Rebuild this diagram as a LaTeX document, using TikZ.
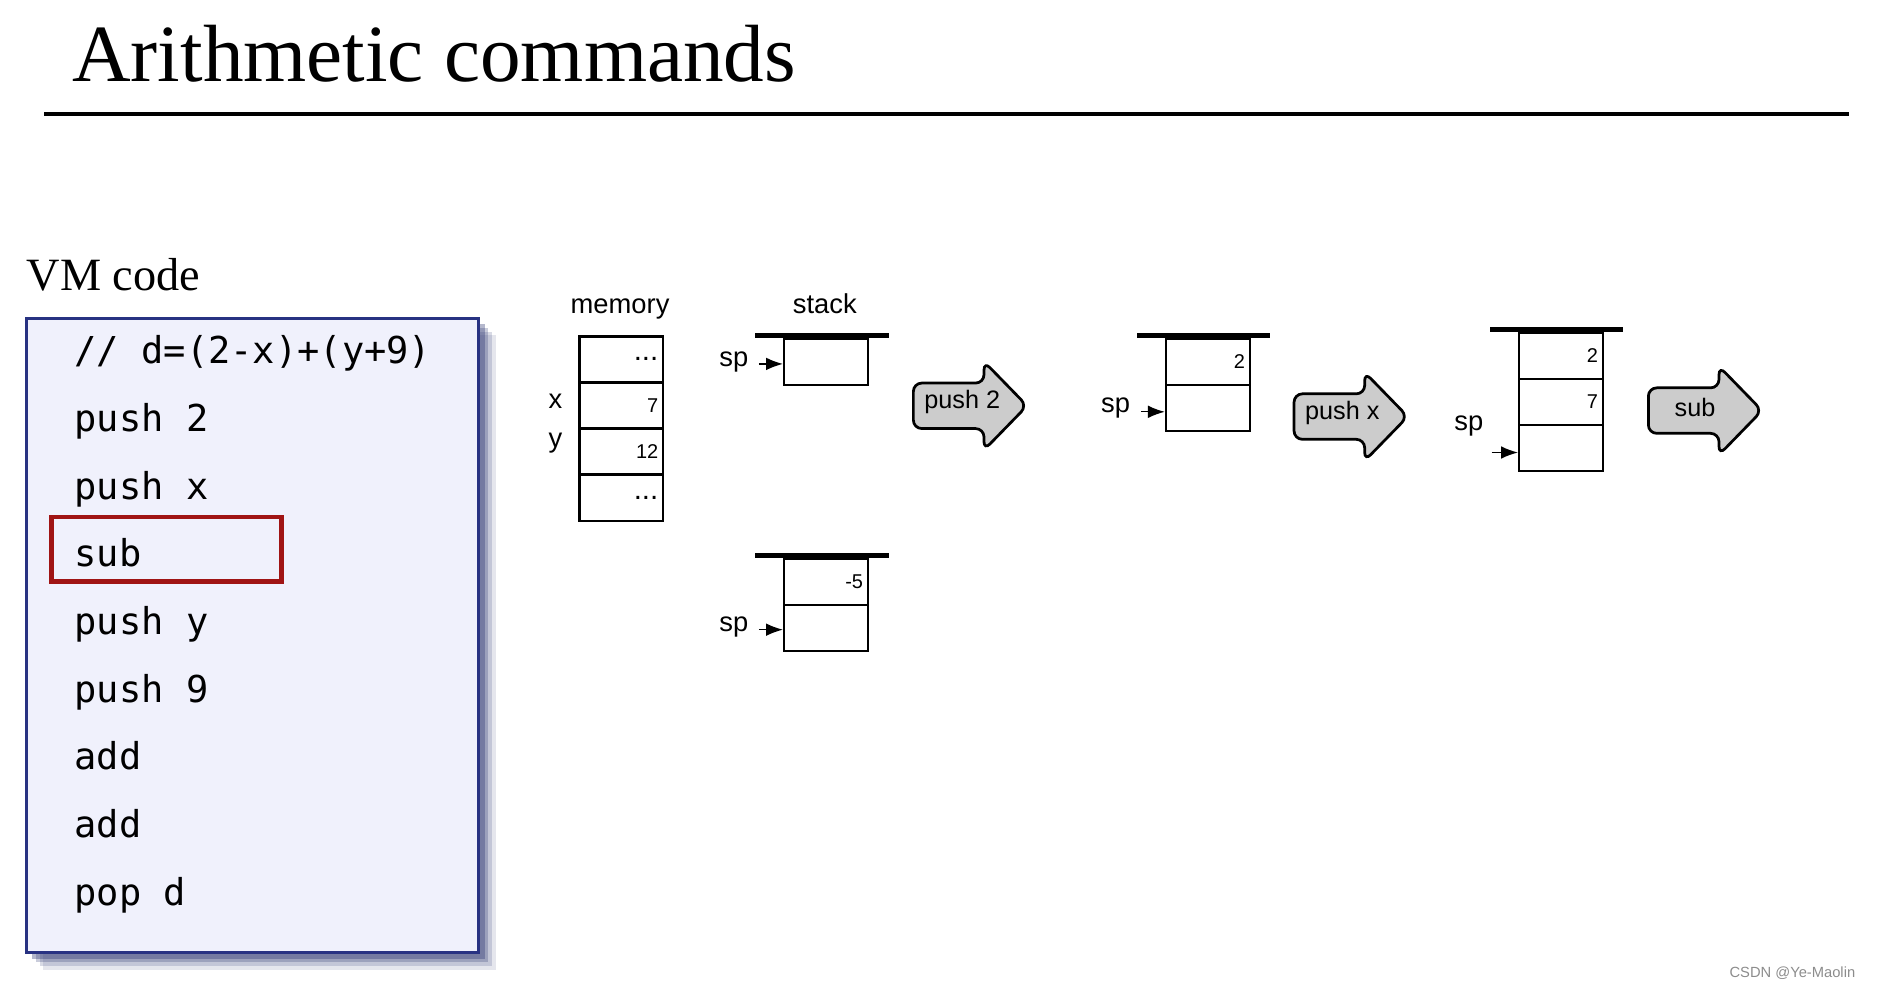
\documentclass[tikz,border=0pt]{standalone}
\usepackage{fontspec}
\setmainfont{Liberation Serif}
\setsansfont{Liberation Sans}
\setmonofont{DejaVu Sans Mono}
\usetikzlibrary{arrows.meta}
\definecolor{shad}{RGB}{40,50,110}
\definecolor{boxb}{RGB}{40,50,130}
\definecolor{boxf}{RGB}{240,241,252}
\definecolor{redb}{RGB}{160,20,20}
\newcommand\sz[1]{\fontsize{#1}{#1}\selectfont}
\tikzset{
  cell/.style={draw,line width=1.1pt,minimum width=70*0.02cm,minimum height=38.5*0.02cm,inner sep=2pt,anchor=north west,font=\sffamily\sz{9.5pt},align=right,text width=62*0.02cm},
  lbl/.style={font=\sffamily\sz{13pt}},
  bar/.style={line width=2.4pt},
  spar/.style={-{Latex[length=8pt,width=6pt]},line width=0.6pt},
  code/.style={font=\ttfamily\sz{17.6pt},anchor=base west},
  barr/.style={draw,line width=1.3pt,fill=black!20,rounded corners=4pt},
}
\newcommand\blockarr[4]{%
  \draw[barr] (#2,#3-19) -- (#2+59,#3-19) -- (#2+59,#3-37) -- (#2+95,#3) -- (#2+59,#3+37) -- (#2+59,#3+19) -- (#2,#3+19) -- cycle;
  \node[font=\sffamily\sz{12pt},anchor=west] (#1) at (#2+3,#3-3) {#4};}
\begin{document}
\begin{tikzpicture}[x=0.02cm,y=-0.02cm]
\useasboundingbox (0,0) rectangle (1568,826);
\node[font=\sz{38.6pt},anchor=base west,inner sep=0] (title) at (60,68) {Arithmetic commands};
\draw[line width=1.8pt] (37,95) -- (1545,95);
\node[font=\sz{22pt},anchor=base west,inner sep=0] (vm) at (22,243) {VM code};
\foreach \o/\op in {14/0.12,11/0.18,8/0.25,5/0.35}
  \fill[shad,opacity=\op] (22+\o,266+\o) rectangle (400+\o,796+\o);
\draw[line width=1.5pt,draw=boxb,fill=boxf] (22,266) rectangle (400,796);
\foreach \t [count=\i from 0] in {{// d=(2-x)+(y+9)},{push 2},{push x},{sub},{push y},{push 9},{add},{add},{pop d}}
  \node[code,inner sep=0] (c\i) at (62,304+\i*56.5) {\t};
\draw[line width=2.2pt,draw=redb] (43,432) rectangle (235,486);
% memory
\node[lbl] (mem) at (518,258) {memory};
\node[cell,font=\sffamily\sz{14pt}] (m0) at (483,280) {...};
\node[cell] (m1) at (483,318.5) {7};
\node[cell] (m2) at (483,357) {12};
\node[cell,font=\sffamily\sz{14pt}] (m3) at (483,395.5) {...};
\node[lbl] (mx) at (464,335) {x};
\node[lbl] (my) at (464,370) {y};
% stack 1
\node[lbl] (stk) at (689,254) {stack};
\draw[bar] (631,280) -- (743,280);
\node[cell] (s1a) at (654,282) {};
\node[lbl] (sp1) at (613,302) {sp};
\coordinate (q1) at (634,304);
\draw[spar] (q1) -- (s1a.west |- q1);
\blockarr{a1}{763}{339}{push 2}
% stack 2
\draw[bar] (950,280) -- (1061,280);
\node[cell] (s2a) at (973,282) {2};
\node[cell] (s2b) at (973,320.5) {};
\node[lbl] (sp2) at (932,341) {sp};
\coordinate (q2) at (953,344);
\draw[spar] (q2) -- (s2b.west |- q2);
\blockarr{a2}{1081}{348}{push x}
% stack 3
\draw[bar] (1245,275) -- (1356,275);
\node[cell] (s3a) at (1268,277) {2};
\node[cell] (s3b) at (1268,315.5) {7};
\node[cell] (s3c) at (1268,354) {};
\node[lbl] (sp3) at (1227,356) {sp};
\coordinate (q3) at (1246,378);
\draw[spar] (q3) -- (s3c.west |- q3);
\draw[barr] (1377,324) -- (1436,324) -- (1436,306) -- (1472,343) -- (1436,380) -- (1436,362) -- (1377,362) -- cycle;
\node[font=\sffamily\sz{12pt}] (a3) at (1416,340) {sub};
% stack 4
\draw[bar] (631,464) -- (743,464);
\node[cell] (s4a) at (654,466) {-5};
\node[cell] (s4b) at (654,504.5) {};
\node[lbl] (sp4) at (613,524) {sp};
\coordinate (q4) at (634,526);
\draw[spar] (q4) -- (s4b.west |- q4);
\node[font=\sffamily\sz{7pt},text=black!45,anchor=east] (wm) at (1556,813) {CSDN @Ye-Maolin};
\end{tikzpicture}
\end{document}
